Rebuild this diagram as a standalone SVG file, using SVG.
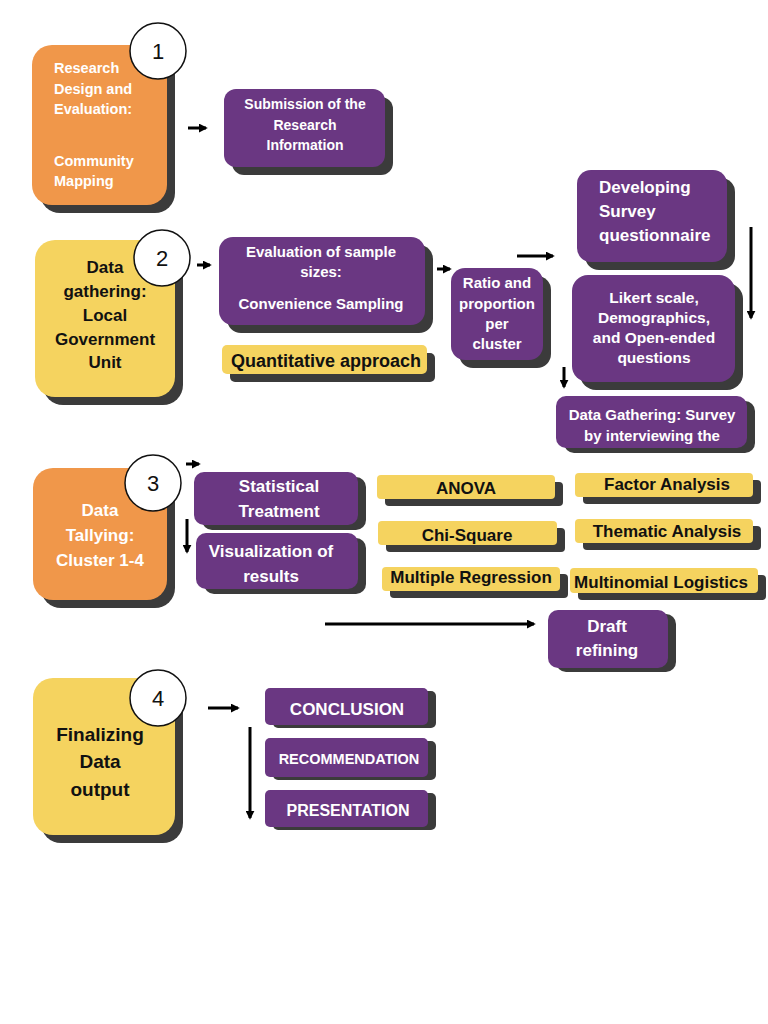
<svg xmlns="http://www.w3.org/2000/svg" width="768" height="1024" viewBox="0 0 768 1024">
<defs>
<style>
.sh{fill:#3b3b3b}
.or{fill:#f0974a}
.ye{fill:#f5d35f}
.pu{fill:#6a3782}
.c{fill:#fff;stroke:#111;stroke-width:1.5}
text{font-family:"Liberation Sans",Arial,sans-serif;font-weight:bold}
.w{fill:#fff}
.k{fill:#111}
.m{text-anchor:middle}
.num{font-family:"Liberation Sans",Arial,sans-serif;font-weight:normal;font-size:22px;fill:#111;text-anchor:middle}
.ln{stroke:#000;stroke-width:3;fill:none}
</style>
<marker id="ah" viewBox="0 0 10 10" refX="8" refY="5" markerWidth="3" markerHeight="3" orient="auto" markerUnits="strokeWidth">
<path d="M0,0 L10,5 L0,10 z" fill="#000"/>
</marker>
</defs>

<g id="n1">
<rect class="sh" x="40" y="53" width="135" height="160" rx="20"/>
<rect class="or" x="32" y="45" width="135" height="160" rx="20"/>
<text class="w" font-size="14.5"><tspan x="54" y="73">Research</tspan><tspan x="54" y="94">Design and</tspan><tspan x="54" y="114">Evaluation:</tspan><tspan x="54" y="166">Community</tspan><tspan x="54" y="186">Mapping</tspan></text>
<circle class="c" cx="158" cy="51" r="28"/>
<text class="num" x="158" y="59">1</text>
</g>

<g id="sub">
<rect class="sh" x="232" y="97" width="161" height="78" rx="12"/>
<rect class="pu" x="224" y="89" width="161" height="78" rx="12"/>
<text class="w m" font-size="14"><tspan x="305" y="109">Submission of the</tspan><tspan x="305" y="130">Research</tspan><tspan x="305" y="150">Information</tspan></text>
</g>

<g id="n2">
<rect class="sh" x="43" y="248" width="140" height="157" rx="20"/>
<rect class="ye" x="35" y="240" width="140" height="157" rx="20"/>
<text class="k m" font-size="17"><tspan x="105" y="273">Data</tspan><tspan x="105" y="297">gathering:</tspan><tspan x="105" y="321">Local</tspan><tspan x="105" y="345">Government</tspan><tspan x="105" y="368">Unit</tspan></text>
<circle class="c" cx="162" cy="258" r="28"/>
<text class="num" x="162" y="266">2</text>
</g>

<g id="eval">
<rect class="sh" x="227" y="245" width="206" height="88" rx="14"/>
<rect class="pu" x="219" y="237" width="206" height="88" rx="14"/>
<text class="w m" font-size="15"><tspan x="321" y="257">Evaluation of sample</tspan><tspan x="321" y="277">sizes:</tspan><tspan x="321" y="309">Convenience Sampling</tspan></text>
</g>

<g id="quant">
<rect class="sh" x="230" y="353" width="205" height="29" rx="5"/>
<rect class="ye" x="222" y="345" width="205" height="29" rx="5"/>
<text class="k m" font-size="18" x="326" y="367">Quantitative approach</text>
</g>

<g id="ratio">
<rect class="sh" x="459" y="276" width="92" height="92" rx="14"/>
<rect class="pu" x="451" y="268" width="92" height="92" rx="14"/>
<text class="w m" font-size="15"><tspan x="497" y="288">Ratio and</tspan><tspan x="497" y="309">proportion</tspan><tspan x="497" y="329">per</tspan><tspan x="497" y="349">cluster</tspan></text>
</g>

<g id="dev">
<rect class="sh" x="585" y="178" width="150" height="92" rx="14"/>
<rect class="pu" x="577" y="170" width="150" height="92" rx="14"/>
<text class="w" font-size="17"><tspan x="599" y="193">Developing</tspan><tspan x="599" y="217">Survey</tspan><tspan x="599" y="241">questionnaire</tspan></text>
</g>

<g id="likert">
<rect class="sh" x="580" y="283" width="163" height="107" rx="16"/>
<rect class="pu" x="572" y="275" width="163" height="107" rx="16"/>
<text class="w m" font-size="15.5"><tspan x="654" y="303">Likert scale,</tspan><tspan x="654" y="323">Demographics,</tspan><tspan x="654" y="343">and Open-ended</tspan><tspan x="654" y="363">questions</tspan></text>
</g>

<g id="gather">
<rect class="sh" x="564" y="401" width="191" height="52" rx="10"/>
<rect class="pu" x="556" y="396" width="191" height="52" rx="10"/>
<text class="w m" font-size="15"><tspan x="652" y="420">Data Gathering: Survey</tspan><tspan x="652" y="441">by interviewing the</tspan></text>
</g>

<g id="n3">
<rect class="sh" x="41" y="476" width="134" height="132" rx="20"/>
<rect class="or" x="33" y="468" width="134" height="132" rx="20"/>
<text class="w m" font-size="17"><tspan x="100" y="516">Data</tspan><tspan x="100" y="541">Tallying:</tspan><tspan x="100" y="566">Cluster 1-4</tspan></text>
<circle class="c" cx="153" cy="483" r="28"/>
<text class="num" x="153" y="491">3</text>
</g>

<g id="stat">
<rect class="sh" x="202" y="477" width="164" height="53" rx="10"/>
<rect class="pu" x="194" y="472" width="164" height="53" rx="10"/>
<text class="w m" font-size="17"><tspan x="279" y="492">Statistical</tspan><tspan x="279" y="517">Treatment</tspan></text>
</g>

<g id="vis">
<rect class="sh" x="204" y="538" width="162" height="56" rx="10"/>
<rect class="pu" x="196" y="533" width="162" height="56" rx="10"/>
<text class="w m" font-size="17"><tspan x="271" y="557">Visualization of</tspan><tspan x="271" y="582">results</tspan></text>
</g>

<g id="anova">
<rect class="sh" x="385" y="482" width="178" height="24" rx="4"/>
<rect class="ye" x="377" y="475" width="178" height="24" rx="4"/>
<text class="k m" font-size="17" x="466" y="494">ANOVA</text>
</g>
<g id="factor">
<rect class="sh" x="583" y="480" width="178" height="24" rx="4"/>
<rect class="ye" x="575" y="473" width="178" height="24" rx="4"/>
<text class="k m" font-size="17" x="667" y="490">Factor Analysis</text>
</g>
<g id="chi">
<rect class="sh" x="386" y="528" width="179" height="24" rx="4"/>
<rect class="ye" x="378" y="521" width="179" height="24" rx="4"/>
<text class="k m" font-size="17" x="467" y="541">Chi-Square</text>
</g>
<g id="thematic">
<rect class="sh" x="583" y="526" width="178" height="24" rx="4"/>
<rect class="ye" x="575" y="519" width="178" height="24" rx="4"/>
<text class="k m" font-size="17" x="667" y="537">Thematic Analysis</text>
</g>
<g id="mreg">
<rect class="sh" x="390" y="574" width="178" height="24" rx="4"/>
<rect class="ye" x="382" y="567" width="178" height="24" rx="4"/>
<text class="k m" font-size="17" x="471" y="583">Multiple Regression</text>
</g>
<g id="mlog">
<rect class="sh" x="578" y="575" width="188" height="25" rx="4"/>
<rect class="ye" x="570" y="568" width="188" height="25" rx="4"/>
<text class="k m" font-size="17" x="661" y="588">Multinomial Logistics</text>
</g>

<g id="draft">
<rect class="sh" x="556" y="614" width="120" height="58" rx="10"/>
<rect class="pu" x="548" y="610" width="120" height="58" rx="10"/>
<text class="w m" font-size="17"><tspan x="607" y="632">Draft</tspan><tspan x="607" y="656">refining</tspan></text>
</g>

<g id="n4">
<rect class="sh" x="41" y="686" width="142" height="157" rx="20"/>
<rect class="ye" x="33" y="678" width="142" height="157" rx="20"/>
<text class="k m" font-size="19"><tspan x="100" y="741">Finalizing</tspan><tspan x="100" y="768">Data</tspan><tspan x="100" y="796">output</tspan></text>
<circle class="c" cx="158" cy="698" r="28"/>
<text class="num" x="158" y="706">4</text>
</g>

<g id="concl">
<rect class="sh" x="273" y="691" width="163" height="37" rx="5"/>
<rect class="pu" x="265" y="688" width="163" height="37" rx="5"/>
<text class="w m" font-size="17" x="347" y="715">CONCLUSION</text>
</g>
<g id="recom">
<rect class="sh" x="273" y="741" width="163" height="39" rx="5"/>
<rect class="pu" x="265" y="738" width="163" height="39" rx="5"/>
<text class="w m" font-size="14.5" x="349" y="764">RECOMMENDATION</text>
</g>
<g id="pres">
<rect class="sh" x="273" y="793" width="163" height="37" rx="5"/>
<rect class="pu" x="265" y="790" width="163" height="37" rx="5"/>
<text class="w m" font-size="16" x="348" y="816">PRESENTATION</text>
</g>

<g id="connectors">
<line class="ln" x1="188" y1="128" x2="206" y2="128" stroke-width="4" marker-end="url(#ah)"/>
<line class="ln" x1="197" y1="265" x2="210" y2="265" marker-end="url(#ah)"/>
<line class="ln" x1="437" y1="269" x2="450" y2="269" marker-end="url(#ah)"/>
<line class="ln" x1="517" y1="256" x2="553" y2="256" marker-end="url(#ah)"/>
<line class="ln" x1="751" y1="227" x2="751" y2="318" stroke-width="2.5" marker-end="url(#ah)"/>
<line class="ln" x1="564" y1="367" x2="564" y2="387" marker-end="url(#ah)"/>
<line class="ln" x1="186" y1="464" x2="199" y2="464" marker-end="url(#ah)"/>
<line class="ln" x1="187" y1="519" x2="187" y2="552" stroke-width="2.5" marker-end="url(#ah)"/>
<line class="ln" x1="325" y1="624" x2="534" y2="624" marker-end="url(#ah)"/>
<line class="ln" x1="208" y1="708" x2="238" y2="708" marker-end="url(#ah)"/>
<line class="ln" x1="250" y1="727" x2="250" y2="818" stroke-width="2.5" marker-end="url(#ah)"/>
</g>
</svg>
